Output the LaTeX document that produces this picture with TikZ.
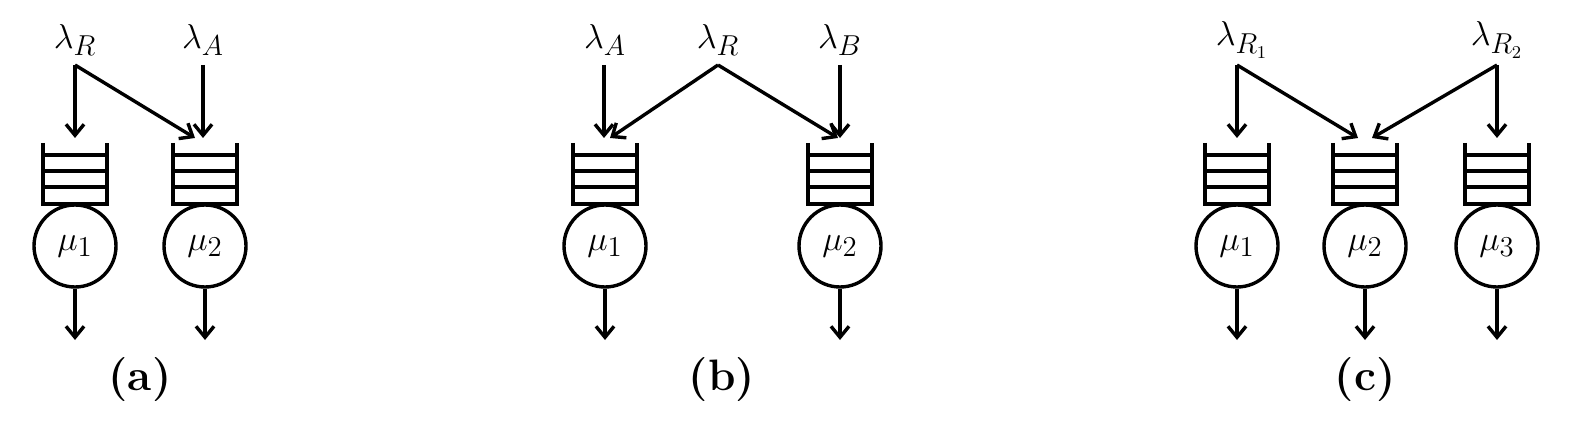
\documentclass[tikz,border=0pt]{standalone}
\usetikzlibrary{arrows.meta}
\begin{document}
\begin{tikzpicture}[x=0.5pt,y=-0.5pt,line width=1.7pt,
  arr/.style={-{Straight Barb[length=5.5pt,width=9pt]}},
  srv/.style={circle,draw,minimum size=41pt,inner sep=0pt,font=\fontsize{19}{22}\selectfont},
  lab/.style={font=\fontsize{19}{22}\selectfont},
  capt/.style={font=\fontsize{22}{26}\selectfont\bfseries}]
\useasboundingbox (0,0) rectangle (1573,422);
\newcommand{\que}[2]{%
  \draw (#1-32,143) -- (#1-32,204) -- (#1+32,204) -- (#1+32,143);
  \foreach \yy in {155,171,187} \draw (#1-32,\yy) -- (#1+32,\yy);
  \node[srv] (s#2) at (#1,246) {$\mu_{#2}$};
  \coordinate (o#2) at (#1,340);
  \draw[arr] (s#2) -- (o#2);}
% (a)
\que{75}{1}\que{205}{2}
\node[lab] (la) at (75,40) {$\lambda_R$};
\node[lab] (lb) at (203,40) {$\lambda_A$};
\coordinate (ta) at (75,65); \coordinate (tb) at (203,65);
\coordinate (qa1) at (75,138); \coordinate (qa2) at (195,138); \coordinate (qa3) at (203,138);
\draw[arr] (ta) -- (qa1); \draw[arr] (ta) -- (qa2); \draw[arr] (tb) -- (qa3);
\node[capt] (ca) at (140,380) {(a)};
% (b)
\begin{scope}[shift={(530,0)}]
\que{75}{1}\que{310}{2}
\end{scope}
\node[lab] (bA) at (605,40) {$\lambda_A$};
\node[lab] (bR) at (718,40) {$\lambda_R$};
\node[lab] (bB) at (840,40) {$\lambda_B$};
\coordinate (tbA) at (604,65); \coordinate (tbR) at (718,65); \coordinate (tbB) at (840,65);
\coordinate (qb1) at (604,138); \coordinate (qb2) at (610,138);
\coordinate (qb3) at (838,138); \coordinate (qb4) at (840,138);
\draw[arr] (tbA) -- (qb1); \draw[arr] (tbR) -- (qb2);
\draw[arr] (tbR) -- (qb3); \draw[arr] (tbB) -- (qb4);
\node[capt] (cb) at (722,380) {(b)};
% (c)
\begin{scope}[shift={(1160,0)}]
\que{77}{1}\que{205}{2}\que{337}{3}
\end{scope}
\node[lab] (c1) at (1242,40) {$\lambda_{R_1}$};
\node[lab] (c2) at (1497,40) {$\lambda_{R_2}$};
\coordinate (tc1) at (1237,65); \coordinate (tc2) at (1497,65);
\coordinate (qc1) at (1237,138); \coordinate (qc2) at (1358,138);
\coordinate (qc3) at (1372,138); \coordinate (qc4) at (1497,138);
\draw[arr] (tc1) -- (qc1); \draw[arr] (tc1) -- (qc2);
\draw[arr] (tc2) -- (qc3); \draw[arr] (tc2) -- (qc4);
\node[capt] (cc) at (1365,380) {(c)};
\end{tikzpicture}
\end{document}
